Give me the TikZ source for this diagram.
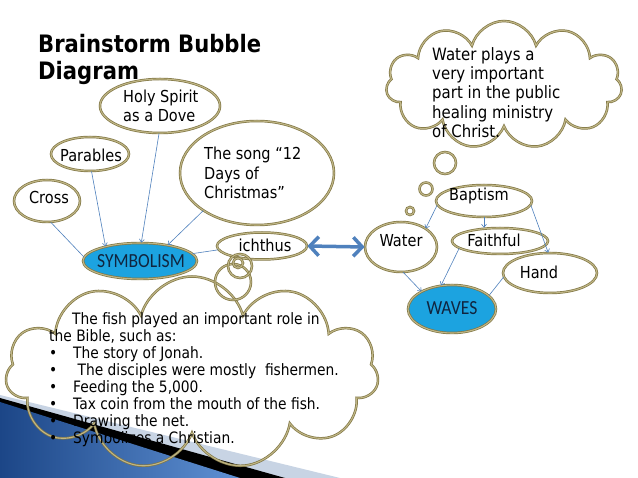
\documentclass[tikz,border=0pt]{standalone}
\usepackage{fontspec}
\setmainfont{DejaVu Sans}[FakeStretch=0.88]
\newfontfamily\capfont{Carlito}[FakeStretch=0.88]
\usetikzlibrary{shapes.geometric,shapes.symbols,arrows.meta}
\definecolor{bordercol}{RGB}{128,118,68}
\definecolor{borderin}{RGB}{192,182,134}
\definecolor{linkblue}{RGB}{79,129,189}
\definecolor{hubblue}{RGB}{28,163,224}
\definecolor{hubtext}{RGB}{16,37,63}
\definecolor{bandlight}{RGB}{200,212,228}
\definecolor{bluedark}{RGB}{28,70,135}
\definecolor{bluelight}{RGB}{95,145,212}
\begin{document}
\begin{tikzpicture}[x=1pt,y=-1pt,
  edge/.style={draw=bordercol, line width=0.7pt, double=borderin, double distance=1.1pt},
  bub/.style={ellipse, edge, fill=white, inner sep=0pt},
  hub/.style={bub, fill=hubblue},
  conn/.style={draw=linkblue, line width=0.6pt},
  arr/.style={conn, -{Straight Barb[length=3pt,width=5pt]}},
  lbl/.style={font=\fontsize{16.5}{19}\selectfont, inner sep=0pt},
  mlbl/.style={lbl, align=left, anchor=north west},
  hubl/.style={font=\capfont\fontsize{20}{22}\selectfont, text=hubtext, inner sep=0pt},
  cloudbox/.style={cloud, cloud ignores aspect, edge, inner sep=0pt},
  ring/.style={circle, edge, inner sep=0pt}
]
\useasboundingbox[fill=white] (0,0) rectangle (638,478);

% background corner
\fill[bandlight] (0,395) -- (340,478) -- (0,478) -- cycle;
\fill[black] (0,398) -- (285,478) -- (0,478) -- cycle;
\shade[left color=bluedark, right color=bluelight] (0,402) -- (240,478) -- (0,478) -- cycle;

% clouds
\node[cloudbox, cloud puffs=11, minimum width=373pt, minimum height=193pt] (fishcloud) at (192,373) {};
\node[cloudbox, cloud puffs=11, fill=white, minimum width=236pt, minimum height=128pt] (watercloud) at (504,85) {};

% bubbles
\node[ring, minimum size=22pt] (wb1) at (445,163) {};
\node[ring, minimum size=13pt] (wb2) at (426,189) {};
\node[ring, minimum size=8pt] (wb3) at (410,211) {};

% left ellipses
\node[bub, minimum width=120pt, minimum height=54pt] (holy) at (160,106) {};
\node[bub, minimum width=78pt, minimum height=34pt] (par) at (90,154) {};
\node[bub, minimum width=66pt, minimum height=42pt] (cross) at (47,201) {};
\node[bub, minimum width=154pt, minimum height=104pt] (song) at (257,173) {};
\node[hub, minimum width=114pt, minimum height=36pt] (sym) at (140,261) {};
\node[bub, minimum width=90pt, minimum height=27pt] (ich) at (262,246) {};

% ichthus bubbles
\node[ring, minimum size=36pt] (ib1) at (233,282) {};
\node[ring, minimum size=24pt] (ib2) at (240,266) {};
\node[ring, minimum size=10pt] (ib3) at (238,263) {};

% right ellipses
\node[bub, minimum width=96pt, minimum height=32pt] (bap) at (484,201) {};
\node[bub, minimum width=72pt, minimum height=50pt] (water) at (401,247) {};
\node[bub, minimum width=96pt, minimum height=26pt] (faith) at (500,241) {};
\node[bub, minimum width=94pt, minimum height=40pt] (hand) at (550,273) {};
\node[hub, minimum width=88pt, minimum height=48pt] (waves) at (452,309) {};

% labels
\node[lbl] (crossT) at (49,197) {Cross};
\node[lbl] (parT) at (91,155) {Parables};
\node[mlbl] (holyT) at (123,90) {Holy Spirit\\as a Dove};
\node[mlbl, font=\fontsize{16.5}{19.5}\selectfont] (songT) at (204,147) {The song “12\\Days of\\Christmas”};
\node[hubl] (symT) at (141,261.5) {SYMBOLISM};
\node[lbl] (ichT) at (265,245.5) {ichthus};
\node[lbl] (waterT) at (401,241) {Water};
\node[lbl, anchor=base] (bapT) at (479,201) {Baptism};
\node[lbl] (faithT) at (494,240) {Faithful};
\node[lbl] (handT) at (539,272) {Hand};
\node[hubl] (wavesT) at (452,308.5) {WAVES};

\node[mlbl, font=\fontsize{17}{19.3}\selectfont] (waterTxt) at (432,47)
  {Water plays a\\very important\\part in the public\\healing ministry\\of Christ.};

\node[mlbl, font=\fontsize{15.7}{17}\selectfont] (fishTxt) at (49,312.5)
  {\hspace*{23pt}The fish played an important role in\\
   the Bible, such as:\\
   \makebox[24pt][l]{•}The story of Jonah.\\
   \makebox[24pt][l]{•} The disciples were mostly\ \ fishermen.\\
   \makebox[24pt][l]{•}Feeding the 5,000.\\
   \makebox[24pt][l]{•}Tax coin from the mouth of the fish.\\
   \makebox[24pt][l]{•}Drawing the net.\\
   \makebox[24pt][l]{•}Symbolizes a Christian.};

% connectors left
\draw[conn] (cross.-80) -- (sym.176);
\draw[arr] (par.-85) -- (sym.157);
\draw[arr] (holy.-92) -- (sym.86);
\draw[arr] (song.215) -- (sym.30);
\draw[conn] (sym.8) -- (ich.185);

% connectors right
\draw[arr] (bap.185) -- (water.37);
\draw[arr] (bap.south) -- (bap.south |- faith.north);
\draw[arr] (bap.-5) -- (hand.95);
\draw[arr] (water.-85) -- (waves.150);
\draw[arr] (faith.190) -- (waves.115);
\draw[conn] (hand.185) -- (waves.20);

% double arrow
\draw[draw=linkblue, line width=3.5pt,
  {Straight Barb[length=9pt,width=19pt]}-{Straight Barb[length=9pt,width=19pt]}]
  (ich.east) -- (water.west);

% title
\node[mlbl, font=\bfseries\fontsize{24}{27.5}\selectfont] (title) at (38,34)
  {Brainstorm Bubble\\Diagram};
\end{tikzpicture}
\end{document}
